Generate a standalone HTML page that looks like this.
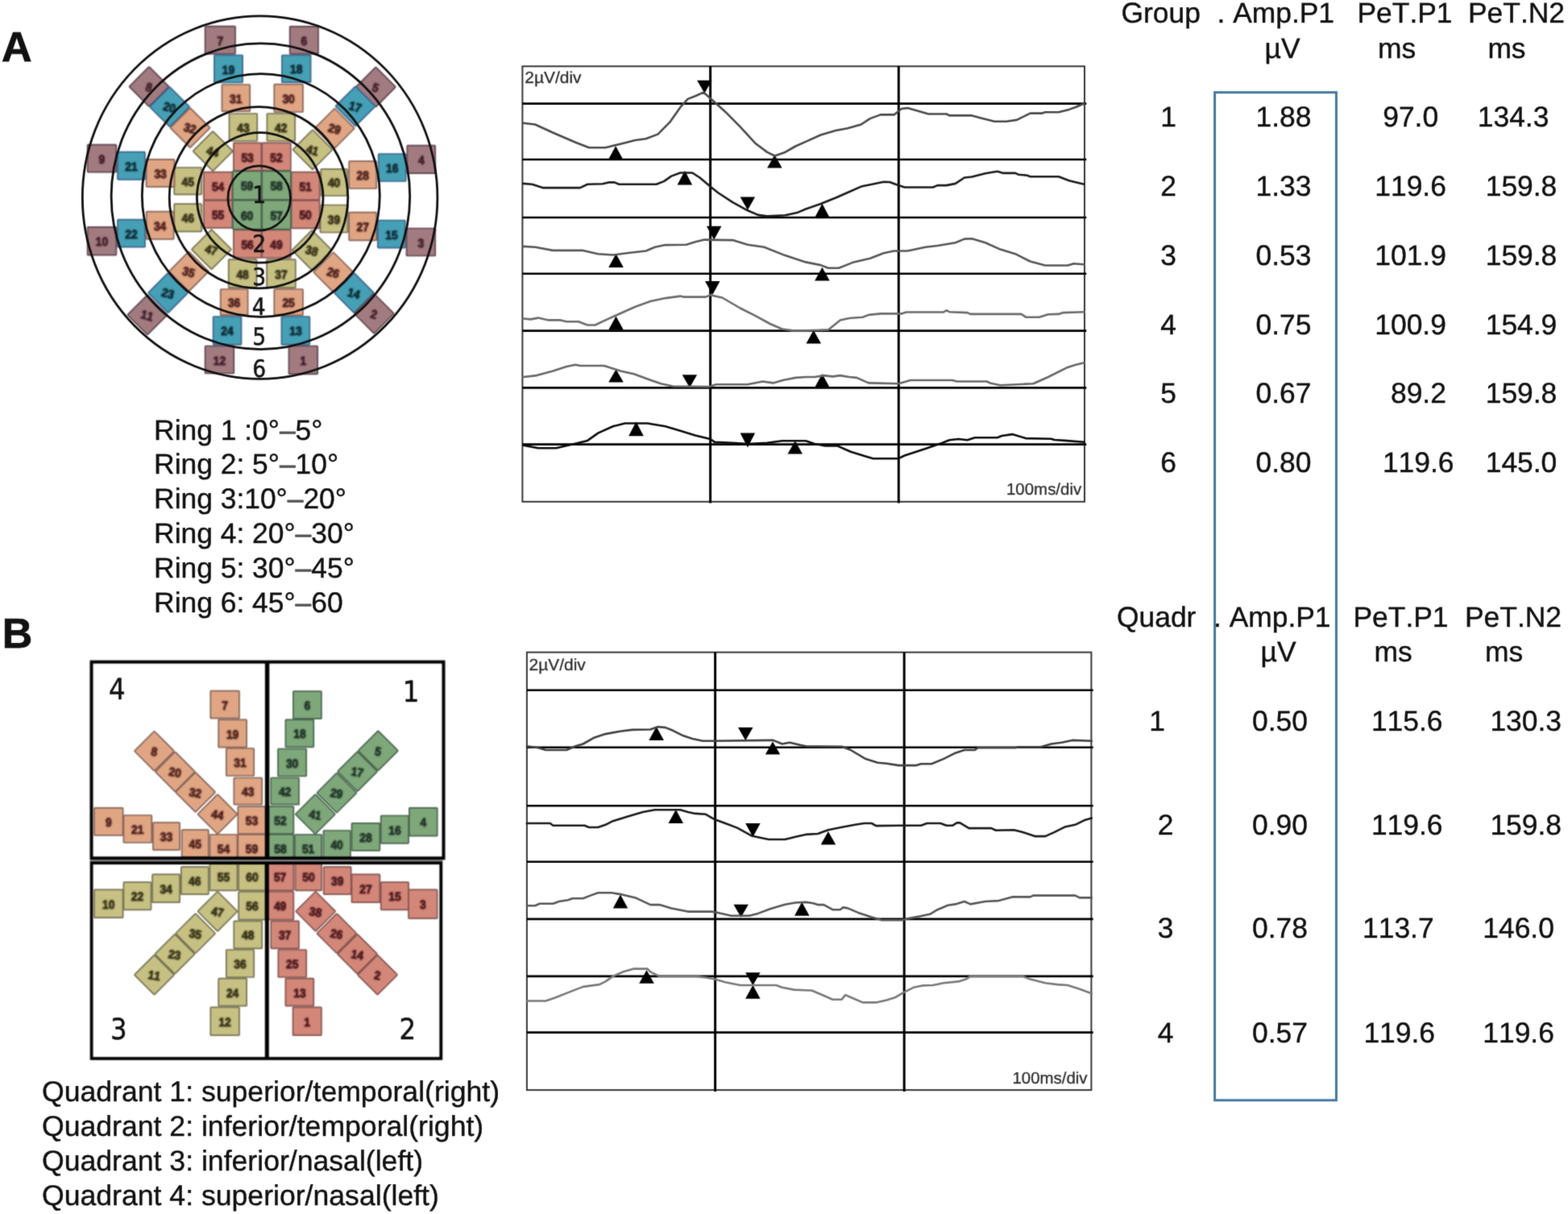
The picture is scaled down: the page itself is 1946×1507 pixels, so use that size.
<!DOCTYPE html>
<html lang="en">
<head>
<meta charset="utf-8">
<title>Multifocal ERG ring and quadrant analysis</title>
<style>
html,body{margin:0;padding:0;background:#fff;}
body{width:1946px;height:1507px;overflow:hidden;font-family:"Liberation Sans", sans-serif;}
svg{display:block;position:absolute;left:0;top:0;}
svg text{font-family:"Liberation Sans", sans-serif;font-kerning:none;font-variant-ligatures:none;text-rendering:geometricPrecision;}
svg text.dj{font-family:"DejaVu Sans", "Liberation Sans", sans-serif;}
svg text.t{stroke:#111;stroke-width:0.4px;}
</style>
</head>
<body>
<svg width="1946" height="1507" viewBox="0 0 1946 1507" role="img" aria-label="Multifocal ERG ring and quadrant analysis figure">
<defs>
<filter id="soft" x="-3%" y="-3%" width="106%" height="106%" color-interpolation-filters="sRGB"><feConvolveMatrix order="3" kernelMatrix="1 2 1 2 4 2 1 2 1" divisor="16" preserveAlpha="false" edgeMode="none"/></filter>
<filter id="softt" x="-3%" y="-3%" width="106%" height="106%" color-interpolation-filters="sRGB"><feConvolveMatrix order="3" kernelMatrix="1 2 1 2 4 2 1 2 1" divisor="16" preserveAlpha="false" edgeMode="none" result="p"/><feConvolveMatrix in="p" order="3" kernelMatrix="1 2 1 2 4 2 1 2 1" divisor="16" preserveAlpha="false" edgeMode="none"/></filter>
<filter id="soft2" x="-3%" y="-3%" width="106%" height="106%" color-interpolation-filters="sRGB"><feConvolveMatrix order="3" kernelMatrix="0 1 0 1 4 1 0 1 0" divisor="8" preserveAlpha="false" edgeMode="none"/></filter>
<filter id="soft4" x="-3%" y="-3%" width="106%" height="106%" color-interpolation-filters="sRGB"><feConvolveMatrix order="3" kernelMatrix="1 2 1 2 4 2 1 2 1" divisor="16" preserveAlpha="false" edgeMode="none"/></filter>
<filter id="soft3" x="-3%" y="-3%" width="106%" height="106%" color-interpolation-filters="sRGB"><feConvolveMatrix order="3" kernelMatrix="0 1 0 1 6 1 0 1 0" divisor="10" preserveAlpha="false" edgeMode="none"/></filter>
</defs>
<rect x="0" y="0" width="1946" height="1507" fill="#ffffff"/>
<g id="panelA-diagram">
<g filter="url(#soft)">
<rect x="-17.5" y="-17.5" width="35.0" height="35.0" rx="1" fill="#a27b81" stroke="#5e444e" stroke-width="1.7" transform="translate(185.0 107.5) rotate(45)"/>
<rect x="-17.5" y="-17.5" width="35.0" height="35.0" rx="1" fill="#45a0b5" stroke="#3a6490" stroke-width="1.7" transform="translate(210.6 132.6) rotate(45)"/>
<rect x="-17.5" y="-17.5" width="35.0" height="35.0" rx="1" fill="#e0a583" stroke="#856458" stroke-width="1.7" transform="translate(236.0 158.6) rotate(45)"/>
<rect x="-17.5" y="-17.5" width="35.0" height="35.0" rx="1" fill="#c6c182" stroke="#747052" stroke-width="1.7" transform="translate(264.2 187.6) rotate(45)"/>
<rect x="-17.5" y="-17.5" width="35.0" height="35.0" rx="1" fill="#a27b81" stroke="#5e444e" stroke-width="1.7" transform="translate(466.4 108.0) rotate(45)"/>
<rect x="-17.5" y="-17.5" width="35.0" height="35.0" rx="1" fill="#45a0b5" stroke="#3a6490" stroke-width="1.7" transform="translate(441.1 131.9) rotate(45)"/>
<rect x="-17.5" y="-17.5" width="35.0" height="35.0" rx="1" fill="#e0a583" stroke="#856458" stroke-width="1.7" transform="translate(415.3 159.3) rotate(45)"/>
<rect x="-17.5" y="-17.5" width="35.0" height="35.0" rx="1" fill="#c6c182" stroke="#747052" stroke-width="1.7" transform="translate(388.0 185.8) rotate(45)"/>
<rect x="-17.5" y="-17.5" width="35.0" height="35.0" rx="1" fill="#c6c182" stroke="#747052" stroke-width="1.7" transform="translate(262.5 309.6) rotate(45)"/>
<rect x="-17.5" y="-17.5" width="35.0" height="35.0" rx="1" fill="#e0a583" stroke="#856458" stroke-width="1.7" transform="translate(234.3 337.0) rotate(45)"/>
<rect x="-17.5" y="-17.5" width="35.0" height="35.0" rx="1" fill="#45a0b5" stroke="#3a6490" stroke-width="1.7" transform="translate(208.6 363.5) rotate(45)"/>
<rect x="-17.5" y="-17.5" width="35.0" height="35.0" rx="1" fill="#a27b81" stroke="#5e444e" stroke-width="1.7" transform="translate(182.9 390.9) rotate(45)"/>
<rect x="-17.5" y="-17.5" width="35.0" height="35.0" rx="1" fill="#c6c182" stroke="#747052" stroke-width="1.7" transform="translate(387.1 310.5) rotate(45)"/>
<rect x="-17.5" y="-17.5" width="35.0" height="35.0" rx="1" fill="#e0a583" stroke="#856458" stroke-width="1.7" transform="translate(413.7 337.8) rotate(45)"/>
<rect x="-17.5" y="-17.5" width="35.0" height="35.0" rx="1" fill="#45a0b5" stroke="#3a6490" stroke-width="1.7" transform="translate(439.4 363.5) rotate(45)"/>
<rect x="-17.5" y="-17.5" width="35.0" height="35.0" rx="1" fill="#a27b81" stroke="#5e444e" stroke-width="1.7" transform="translate(464.3 389.3) rotate(45)"/>
<rect x="254.6" y="32.6" width="37.4" height="34.3" rx="0.8" fill="#a27b81" stroke="#5e444e" stroke-width="1.7"/>
<rect x="265.9" y="68.5" width="35.2" height="34.0" rx="0.8" fill="#45a0b5" stroke="#3a6490" stroke-width="1.7"/>
<rect x="275.4" y="105.0" width="34.8" height="33.2" rx="0.8" fill="#e0a583" stroke="#856458" stroke-width="1.7"/>
<rect x="284.5" y="141.0" width="34.7" height="34.0" rx="0.8" fill="#c6c182" stroke="#747052" stroke-width="1.7"/>
<rect x="289.9" y="177.3" width="34.5" height="34.5" rx="0.8" fill="#d38779" stroke="#835450" stroke-width="1.7"/>
<rect x="359.7" y="32.8" width="35.3" height="34.0" rx="0.8" fill="#a27b81" stroke="#5e444e" stroke-width="1.7"/>
<rect x="349.9" y="68.5" width="35.7" height="33.7" rx="0.8" fill="#45a0b5" stroke="#3a6490" stroke-width="1.7"/>
<rect x="340.3" y="104.6" width="35.7" height="34.4" rx="0.8" fill="#e0a583" stroke="#856458" stroke-width="1.7"/>
<rect x="331.4" y="141.0" width="34.8" height="34.0" rx="0.8" fill="#c6c182" stroke="#747052" stroke-width="1.7"/>
<rect x="325.2" y="177.3" width="35.6" height="34.5" rx="0.8" fill="#d38779" stroke="#835450" stroke-width="1.7"/>
<rect x="252.8" y="213.6" width="35.6" height="34.4" rx="0.8" fill="#d38779" stroke="#835450" stroke-width="1.7"/>
<rect x="216.2" y="208.0" width="34.0" height="33.4" rx="0.8" fill="#c6c182" stroke="#747052" stroke-width="1.7"/>
<rect x="181.6" y="197.9" width="34.9" height="34.0" rx="0.8" fill="#e0a583" stroke="#856458" stroke-width="1.7"/>
<rect x="146.0" y="188.7" width="34.0" height="34.1" rx="0.8" fill="#45a0b5" stroke="#3a6490" stroke-width="1.7"/>
<rect x="108.6" y="179.6" width="35.7" height="34.0" rx="0.8" fill="#a27b81" stroke="#5e444e" stroke-width="1.7"/>
<rect x="252.8" y="248.8" width="35.6" height="34.1" rx="0.8" fill="#d38779" stroke="#835450" stroke-width="1.7"/>
<rect x="216.2" y="253.2" width="34.0" height="34.1" rx="0.8" fill="#c6c182" stroke="#747052" stroke-width="1.7"/>
<rect x="181.6" y="262.7" width="34.1" height="34.1" rx="0.8" fill="#e0a583" stroke="#856458" stroke-width="1.7"/>
<rect x="146.0" y="272.7" width="34.0" height="34.0" rx="0.8" fill="#45a0b5" stroke="#3a6490" stroke-width="1.7"/>
<rect x="108.6" y="281.8" width="35.7" height="34.9" rx="0.8" fill="#a27b81" stroke="#5e444e" stroke-width="1.7"/>
<rect x="361.6" y="213.6" width="35.1" height="34.4" rx="0.8" fill="#d38779" stroke="#835450" stroke-width="1.7"/>
<rect x="398.3" y="209.8" width="32.7" height="33.2" rx="0.8" fill="#c6c182" stroke="#747052" stroke-width="1.7"/>
<rect x="433.2" y="200.2" width="34.0" height="33.8" rx="0.8" fill="#e0a583" stroke="#856458" stroke-width="1.7"/>
<rect x="469.7" y="191.0" width="34.0" height="34.0" rx="0.8" fill="#45a0b5" stroke="#3a6490" stroke-width="1.7"/>
<rect x="505.3" y="180.6" width="34.9" height="34.6" rx="0.8" fill="#a27b81" stroke="#5e444e" stroke-width="1.7"/>
<rect x="361.6" y="248.8" width="35.1" height="34.5" rx="0.8" fill="#d38779" stroke="#835450" stroke-width="1.7"/>
<rect x="397.5" y="254.5" width="34.0" height="34.0" rx="0.8" fill="#c6c182" stroke="#747052" stroke-width="1.7"/>
<rect x="433.2" y="263.6" width="34.0" height="34.8" rx="0.8" fill="#e0a583" stroke="#856458" stroke-width="1.7"/>
<rect x="468.8" y="273.5" width="34.1" height="34.1" rx="0.8" fill="#45a0b5" stroke="#3a6490" stroke-width="1.7"/>
<rect x="504.5" y="283.5" width="35.7" height="34.0" rx="0.8" fill="#a27b81" stroke="#5e444e" stroke-width="1.7"/>
<rect x="289.9" y="285.4" width="34.5" height="34.6" rx="0.8" fill="#d38779" stroke="#835450" stroke-width="1.7"/>
<rect x="283.7" y="322.2" width="34.8" height="35.0" rx="0.8" fill="#c6c182" stroke="#747052" stroke-width="1.7"/>
<rect x="273.7" y="359.0" width="33.9" height="32.2" rx="0.8" fill="#e0a583" stroke="#856458" stroke-width="1.7"/>
<rect x="264.6" y="393.0" width="34.9" height="34.8" rx="0.8" fill="#45a0b5" stroke="#3a6490" stroke-width="1.7"/>
<rect x="254.6" y="429.5" width="35.7" height="34.0" rx="0.8" fill="#a27b81" stroke="#5e444e" stroke-width="1.7"/>
<rect x="325.2" y="285.4" width="35.6" height="34.6" rx="0.8" fill="#d38779" stroke="#835450" stroke-width="1.7"/>
<rect x="331.1" y="322.2" width="35.7" height="35.0" rx="0.8" fill="#c6c182" stroke="#747052" stroke-width="1.7"/>
<rect x="340.3" y="359.0" width="35.7" height="32.4" rx="0.8" fill="#e0a583" stroke="#856458" stroke-width="1.7"/>
<rect x="349.4" y="393.0" width="34.9" height="34.8" rx="0.8" fill="#45a0b5" stroke="#3a6490" stroke-width="1.7"/>
<rect x="358.5" y="429.5" width="35.7" height="34.8" rx="0.8" fill="#a27b81" stroke="#5e444e" stroke-width="1.7"/>
<rect x="288.8" y="212.4" width="35.6" height="35.4" rx="0.8" fill="#7ea77a" stroke="#48644e" stroke-width="1.7"/>
<rect x="325.2" y="212.4" width="35.8" height="35.4" rx="0.8" fill="#7ea77a" stroke="#48644e" stroke-width="1.7"/>
<rect x="288.8" y="248.6" width="35.6" height="36.0" rx="0.8" fill="#7ea77a" stroke="#48644e" stroke-width="1.7"/>
<rect x="325.2" y="248.6" width="35.8" height="36.0" rx="0.8" fill="#7ea77a" stroke="#48644e" stroke-width="1.7"/>
</g>
<g filter="url(#softt)">
<text x="0" y="6.0" font-size="15" fill="#3e1c26" stroke="#3e1c26" stroke-width="0.9" text-anchor="middle" font-weight="bold" transform="translate(185.0 107.5) rotate(16) scale(0.92 1)">8</text>
<text x="0" y="6.0" font-size="15" fill="#0c2832" stroke="#0c2832" stroke-width="0.9" text-anchor="middle" font-weight="bold" transform="translate(210.6 132.6) rotate(16) scale(0.92 1)">20</text>
<text x="0" y="6.0" font-size="15" fill="#481c1a" stroke="#481c1a" stroke-width="0.9" text-anchor="middle" font-weight="bold" transform="translate(236.0 158.6) rotate(16) scale(0.92 1)">32</text>
<text x="0" y="6.0" font-size="15" fill="#322c14" stroke="#322c14" stroke-width="0.9" text-anchor="middle" font-weight="bold" transform="translate(264.2 187.6) rotate(16) scale(0.92 1)">44</text>
<text x="0" y="6.0" font-size="15" fill="#3e1c26" stroke="#3e1c26" stroke-width="0.9" text-anchor="middle" font-weight="bold" transform="translate(466.4 108.0) rotate(16) scale(0.92 1)">5</text>
<text x="0" y="6.0" font-size="15" fill="#0c2832" stroke="#0c2832" stroke-width="0.9" text-anchor="middle" font-weight="bold" transform="translate(441.1 131.9) rotate(16) scale(0.92 1)">17</text>
<text x="0" y="6.0" font-size="15" fill="#481c1a" stroke="#481c1a" stroke-width="0.9" text-anchor="middle" font-weight="bold" transform="translate(415.3 159.3) rotate(16) scale(0.92 1)">29</text>
<text x="0" y="6.0" font-size="15" fill="#322c14" stroke="#322c14" stroke-width="0.9" text-anchor="middle" font-weight="bold" transform="translate(388.0 185.8) rotate(16) scale(0.92 1)">41</text>
<text x="0" y="6.0" font-size="15" fill="#322c14" stroke="#322c14" stroke-width="0.9" text-anchor="middle" font-weight="bold" transform="translate(262.5 309.6) rotate(16) scale(0.92 1)">47</text>
<text x="0" y="6.0" font-size="15" fill="#481c1a" stroke="#481c1a" stroke-width="0.9" text-anchor="middle" font-weight="bold" transform="translate(234.3 337.0) rotate(16) scale(0.92 1)">35</text>
<text x="0" y="6.0" font-size="15" fill="#0c2832" stroke="#0c2832" stroke-width="0.9" text-anchor="middle" font-weight="bold" transform="translate(208.6 363.5) rotate(16) scale(0.92 1)">23</text>
<text x="0" y="6.0" font-size="15" fill="#3e1c26" stroke="#3e1c26" stroke-width="0.9" text-anchor="middle" font-weight="bold" transform="translate(182.9 390.9) rotate(16) scale(0.92 1)">11</text>
<text x="0" y="6.0" font-size="15" fill="#322c14" stroke="#322c14" stroke-width="0.9" text-anchor="middle" font-weight="bold" transform="translate(387.1 310.5) rotate(16) scale(0.92 1)">38</text>
<text x="0" y="6.0" font-size="15" fill="#481c1a" stroke="#481c1a" stroke-width="0.9" text-anchor="middle" font-weight="bold" transform="translate(413.7 337.8) rotate(16) scale(0.92 1)">26</text>
<text x="0" y="6.0" font-size="15" fill="#0c2832" stroke="#0c2832" stroke-width="0.9" text-anchor="middle" font-weight="bold" transform="translate(439.4 363.5) rotate(16) scale(0.92 1)">14</text>
<text x="0" y="6.0" font-size="15" fill="#3e1c26" stroke="#3e1c26" stroke-width="0.9" text-anchor="middle" font-weight="bold" transform="translate(464.3 389.3) rotate(16) scale(0.92 1)">2</text>
<text x="0" y="6.0" font-size="15" fill="#3e1c26" stroke="#3e1c26" stroke-width="0.9" text-anchor="middle" font-weight="bold" transform="translate(273.3 49.8) scale(0.92 1)">7</text>
<text x="0" y="6.0" font-size="15" fill="#0c2832" stroke="#0c2832" stroke-width="0.9" text-anchor="middle" font-weight="bold" transform="translate(283.5 85.5) scale(0.92 1)">19</text>
<text x="0" y="6.0" font-size="15" fill="#481c1a" stroke="#481c1a" stroke-width="0.9" text-anchor="middle" font-weight="bold" transform="translate(292.8 121.6) scale(0.92 1)">31</text>
<text x="0" y="6.0" font-size="15" fill="#322c14" stroke="#322c14" stroke-width="0.9" text-anchor="middle" font-weight="bold" transform="translate(301.9 158.0) scale(0.92 1)">43</text>
<text x="0" y="6.0" font-size="15" fill="#46141a" stroke="#46141a" stroke-width="0.9" text-anchor="middle" font-weight="bold" transform="translate(307.1 194.6) scale(0.92 1)">53</text>
<text x="0" y="6.0" font-size="15" fill="#3e1c26" stroke="#3e1c26" stroke-width="0.9" text-anchor="middle" font-weight="bold" transform="translate(377.4 49.8) scale(0.92 1)">6</text>
<text x="0" y="6.0" font-size="15" fill="#0c2832" stroke="#0c2832" stroke-width="0.9" text-anchor="middle" font-weight="bold" transform="translate(367.8 85.3) scale(0.92 1)">18</text>
<text x="0" y="6.0" font-size="15" fill="#481c1a" stroke="#481c1a" stroke-width="0.9" text-anchor="middle" font-weight="bold" transform="translate(358.1 121.8) scale(0.92 1)">30</text>
<text x="0" y="6.0" font-size="15" fill="#322c14" stroke="#322c14" stroke-width="0.9" text-anchor="middle" font-weight="bold" transform="translate(348.8 158.0) scale(0.92 1)">42</text>
<text x="0" y="6.0" font-size="15" fill="#46141a" stroke="#46141a" stroke-width="0.9" text-anchor="middle" font-weight="bold" transform="translate(343.0 194.6) scale(0.92 1)">52</text>
<text x="0" y="6.0" font-size="15" fill="#46141a" stroke="#46141a" stroke-width="0.9" text-anchor="middle" font-weight="bold" transform="translate(270.6 230.8) scale(0.92 1)">54</text>
<text x="0" y="6.0" font-size="15" fill="#322c14" stroke="#322c14" stroke-width="0.9" text-anchor="middle" font-weight="bold" transform="translate(233.2 224.7) scale(0.92 1)">45</text>
<text x="0" y="6.0" font-size="15" fill="#481c1a" stroke="#481c1a" stroke-width="0.9" text-anchor="middle" font-weight="bold" transform="translate(199.1 214.9) scale(0.92 1)">33</text>
<text x="0" y="6.0" font-size="15" fill="#0c2832" stroke="#0c2832" stroke-width="0.9" text-anchor="middle" font-weight="bold" transform="translate(163.0 205.8) scale(0.92 1)">21</text>
<text x="0" y="6.0" font-size="15" fill="#3e1c26" stroke="#3e1c26" stroke-width="0.9" text-anchor="middle" font-weight="bold" transform="translate(126.4 196.6) scale(0.92 1)">9</text>
<text x="0" y="6.0" font-size="15" fill="#46141a" stroke="#46141a" stroke-width="0.9" text-anchor="middle" font-weight="bold" transform="translate(270.6 265.9) scale(0.92 1)">55</text>
<text x="0" y="6.0" font-size="15" fill="#322c14" stroke="#322c14" stroke-width="0.9" text-anchor="middle" font-weight="bold" transform="translate(233.2 270.2) scale(0.92 1)">46</text>
<text x="0" y="6.0" font-size="15" fill="#481c1a" stroke="#481c1a" stroke-width="0.9" text-anchor="middle" font-weight="bold" transform="translate(198.6 279.8) scale(0.92 1)">34</text>
<text x="0" y="6.0" font-size="15" fill="#0c2832" stroke="#0c2832" stroke-width="0.9" text-anchor="middle" font-weight="bold" transform="translate(163.0 289.7) scale(0.92 1)">22</text>
<text x="0" y="6.0" font-size="15" fill="#3e1c26" stroke="#3e1c26" stroke-width="0.9" text-anchor="middle" font-weight="bold" transform="translate(126.4 299.2) scale(0.92 1)">10</text>
<text x="0" y="6.0" font-size="15" fill="#46141a" stroke="#46141a" stroke-width="0.9" text-anchor="middle" font-weight="bold" transform="translate(379.1 230.8) scale(0.92 1)">51</text>
<text x="0" y="6.0" font-size="15" fill="#322c14" stroke="#322c14" stroke-width="0.9" text-anchor="middle" font-weight="bold" transform="translate(414.6 226.4) scale(0.92 1)">40</text>
<text x="0" y="6.0" font-size="15" fill="#481c1a" stroke="#481c1a" stroke-width="0.9" text-anchor="middle" font-weight="bold" transform="translate(450.2 217.1) scale(0.92 1)">28</text>
<text x="0" y="6.0" font-size="15" fill="#0c2832" stroke="#0c2832" stroke-width="0.9" text-anchor="middle" font-weight="bold" transform="translate(486.7 208.0) scale(0.92 1)">16</text>
<text x="0" y="6.0" font-size="15" fill="#3e1c26" stroke="#3e1c26" stroke-width="0.9" text-anchor="middle" font-weight="bold" transform="translate(522.8 197.9) scale(0.92 1)">4</text>
<text x="0" y="6.0" font-size="15" fill="#46141a" stroke="#46141a" stroke-width="0.9" text-anchor="middle" font-weight="bold" transform="translate(379.1 266.1) scale(0.92 1)">50</text>
<text x="0" y="6.0" font-size="15" fill="#322c14" stroke="#322c14" stroke-width="0.9" text-anchor="middle" font-weight="bold" transform="translate(414.5 271.5) scale(0.92 1)">39</text>
<text x="0" y="6.0" font-size="15" fill="#481c1a" stroke="#481c1a" stroke-width="0.9" text-anchor="middle" font-weight="bold" transform="translate(450.2 281.0) scale(0.92 1)">27</text>
<text x="0" y="6.0" font-size="15" fill="#0c2832" stroke="#0c2832" stroke-width="0.9" text-anchor="middle" font-weight="bold" transform="translate(485.9 290.6) scale(0.92 1)">15</text>
<text x="0" y="6.0" font-size="15" fill="#3e1c26" stroke="#3e1c26" stroke-width="0.9" text-anchor="middle" font-weight="bold" transform="translate(522.4 300.5) scale(0.92 1)">3</text>
<text x="0" y="6.0" font-size="15" fill="#46141a" stroke="#46141a" stroke-width="0.9" text-anchor="middle" font-weight="bold" transform="translate(307.1 302.7) scale(0.92 1)">56</text>
<text x="0" y="6.0" font-size="15" fill="#322c14" stroke="#322c14" stroke-width="0.9" text-anchor="middle" font-weight="bold" transform="translate(301.1 339.7) scale(0.92 1)">48</text>
<text x="0" y="6.0" font-size="15" fill="#481c1a" stroke="#481c1a" stroke-width="0.9" text-anchor="middle" font-weight="bold" transform="translate(290.6 375.1) scale(0.92 1)">36</text>
<text x="0" y="6.0" font-size="15" fill="#0c2832" stroke="#0c2832" stroke-width="0.9" text-anchor="middle" font-weight="bold" transform="translate(282.0 410.4) scale(0.92 1)">24</text>
<text x="0" y="6.0" font-size="15" fill="#3e1c26" stroke="#3e1c26" stroke-width="0.9" text-anchor="middle" font-weight="bold" transform="translate(272.4 446.5) scale(0.92 1)">12</text>
<text x="0" y="6.0" font-size="15" fill="#46141a" stroke="#46141a" stroke-width="0.9" text-anchor="middle" font-weight="bold" transform="translate(343.0 302.7) scale(0.92 1)">49</text>
<text x="0" y="6.0" font-size="15" fill="#322c14" stroke="#322c14" stroke-width="0.9" text-anchor="middle" font-weight="bold" transform="translate(348.9 339.7) scale(0.92 1)">37</text>
<text x="0" y="6.0" font-size="15" fill="#481c1a" stroke="#481c1a" stroke-width="0.9" text-anchor="middle" font-weight="bold" transform="translate(358.1 375.2) scale(0.92 1)">25</text>
<text x="0" y="6.0" font-size="15" fill="#0c2832" stroke="#0c2832" stroke-width="0.9" text-anchor="middle" font-weight="bold" transform="translate(366.9 410.4) scale(0.92 1)">13</text>
<text x="0" y="6.0" font-size="15" fill="#3e1c26" stroke="#3e1c26" stroke-width="0.9" text-anchor="middle" font-weight="bold" transform="translate(376.4 446.9) scale(0.92 1)">1</text>
<text x="0" y="6.0" font-size="15" fill="#1c2e24" stroke="#1c2e24" stroke-width="0.9" text-anchor="middle" font-weight="bold" transform="translate(306.6 230.1) scale(0.92 1)">59</text>
<text x="0" y="6.0" font-size="15" fill="#1c2e24" stroke="#1c2e24" stroke-width="0.9" text-anchor="middle" font-weight="bold" transform="translate(343.1 230.1) scale(0.92 1)">58</text>
<text x="0" y="6.0" font-size="15" fill="#1c2e24" stroke="#1c2e24" stroke-width="0.9" text-anchor="middle" font-weight="bold" transform="translate(306.6 266.6) scale(0.92 1)">60</text>
<text x="0" y="6.0" font-size="15" fill="#1c2e24" stroke="#1c2e24" stroke-width="0.9" text-anchor="middle" font-weight="bold" transform="translate(343.1 266.6) scale(0.92 1)">57</text>
</g>
<g fill="none" stroke="#111" stroke-width="2.8" filter="url(#soft2)">
<ellipse cx="322.6" cy="245.1" rx="220.3" ry="225.2"/>
<ellipse cx="323.4" cy="243.7" rx="185.3" ry="189.9"/>
<ellipse cx="323.8" cy="242.5" rx="147.5" ry="150.9"/>
<ellipse cx="321.0" cy="245.3" rx="110.8" ry="112.6"/>
<ellipse cx="322.7" cy="245.4" rx="78.3" ry="80.8"/>
<ellipse cx="321.7" cy="246.0" rx="38.8" ry="40.1"/>
</g>
<g font-size="29.5" fill="#111" text-anchor="middle" filter="url(#soft2)">
<text class="dj" stroke="#111" stroke-width="0.5" transform="translate(321.8 251.7) scale(0.9 1)">1</text>
<text class="dj" stroke="#111" stroke-width="0.5" transform="translate(321.7 313.0) scale(0.9 1)">2</text>
<text class="dj" stroke="#111" stroke-width="0.5" transform="translate(321.7 353.6) scale(0.9 1)">3</text>
<text class="dj" stroke="#111" stroke-width="0.5" transform="translate(321.2 390.6) scale(0.9 1)">4</text>
<text class="dj" stroke="#111" stroke-width="0.5" transform="translate(321.8 427.7) scale(0.9 1)">5</text>
<text class="dj" stroke="#111" stroke-width="0.5" transform="translate(321.7 468.4) scale(0.9 1)">6</text>
</g>
</g>
<g id="panelB-diagram">
<g filter="url(#soft)">
<rect x="-17.5" y="-17.5" width="35.0" height="35.0" rx="1" fill="#e0a583" stroke="#856458" stroke-width="1.7" transform="translate(191.5 932.3) rotate(45)"/>
<rect x="-17.5" y="-17.5" width="35.0" height="35.0" rx="1" fill="#e0a583" stroke="#856458" stroke-width="1.7" transform="translate(217.4 958.0) rotate(45)"/>
<rect x="-17.5" y="-17.5" width="35.0" height="35.0" rx="1" fill="#e0a583" stroke="#856458" stroke-width="1.7" transform="translate(242.6 983.4) rotate(45)"/>
<rect x="-17.5" y="-17.5" width="35.0" height="35.0" rx="1" fill="#e0a583" stroke="#856458" stroke-width="1.7" transform="translate(270.0 1010.7) rotate(45)"/>
<rect x="-17.5" y="-17.5" width="35.0" height="35.0" rx="1" fill="#7ea77a" stroke="#48644e" stroke-width="1.7" transform="translate(469.3 931.9) rotate(45)"/>
<rect x="-17.5" y="-17.5" width="35.0" height="35.0" rx="1" fill="#7ea77a" stroke="#48644e" stroke-width="1.7" transform="translate(443.6 957.6) rotate(45)"/>
<rect x="-17.5" y="-17.5" width="35.0" height="35.0" rx="1" fill="#7ea77a" stroke="#48644e" stroke-width="1.7" transform="translate(417.9 984.2) rotate(45)"/>
<rect x="-17.5" y="-17.5" width="35.0" height="35.0" rx="1" fill="#7ea77a" stroke="#48644e" stroke-width="1.7" transform="translate(391.3 1010.7) rotate(45)"/>
<rect x="-17.5" y="-17.5" width="35.0" height="35.0" rx="1" fill="#c6c182" stroke="#747052" stroke-width="1.7" transform="translate(270.0 1131.3) rotate(45)"/>
<rect x="-17.5" y="-17.5" width="35.0" height="35.0" rx="1" fill="#c6c182" stroke="#747052" stroke-width="1.7" transform="translate(242.6 1158.7) rotate(45)"/>
<rect x="-17.5" y="-17.5" width="35.0" height="35.0" rx="1" fill="#c6c182" stroke="#747052" stroke-width="1.7" transform="translate(216.9 1184.4) rotate(45)"/>
<rect x="-17.5" y="-17.5" width="35.0" height="35.0" rx="1" fill="#c6c182" stroke="#747052" stroke-width="1.7" transform="translate(191.5 1210.1) rotate(45)"/>
<rect x="-17.5" y="-17.5" width="35.0" height="35.0" rx="1" fill="#d38779" stroke="#835450" stroke-width="1.7" transform="translate(391.7 1131.3) rotate(45)"/>
<rect x="-17.5" y="-17.5" width="35.0" height="35.0" rx="1" fill="#d38779" stroke="#835450" stroke-width="1.7" transform="translate(417.9 1158.7) rotate(45)"/>
<rect x="-17.5" y="-17.5" width="35.0" height="35.0" rx="1" fill="#d38779" stroke="#835450" stroke-width="1.7" transform="translate(443.6 1184.4) rotate(45)"/>
<rect x="-17.5" y="-17.5" width="35.0" height="35.0" rx="1" fill="#d38779" stroke="#835450" stroke-width="1.7" transform="translate(468.5 1210.1) rotate(45)"/>
<rect x="261.3" y="857.7" width="35.7" height="34.0" rx="0.8" fill="#e0a583" stroke="#856458" stroke-width="1.7"/>
<rect x="271.2" y="893.3" width="34.9" height="34.4" rx="0.8" fill="#e0a583" stroke="#856458" stroke-width="1.7"/>
<rect x="280.8" y="929.0" width="34.4" height="34.0" rx="0.8" fill="#e0a583" stroke="#856458" stroke-width="1.7"/>
<rect x="290.3" y="965.5" width="34.9" height="33.2" rx="0.8" fill="#e0a583" stroke="#856458" stroke-width="1.7"/>
<rect x="295.3" y="1001.2" width="34.3" height="34.0" rx="0.8" fill="#e0a583" stroke="#856458" stroke-width="1.7"/>
<rect x="295.3" y="1036.0" width="34.3" height="34.0" rx="0.8" fill="#e0a583" stroke="#856458" stroke-width="1.7"/>
<rect x="260.4" y="1036.0" width="34.1" height="34.0" rx="0.8" fill="#e0a583" stroke="#856458" stroke-width="1.7"/>
<rect x="225.6" y="1030.2" width="33.2" height="34.0" rx="0.8" fill="#e0a583" stroke="#856458" stroke-width="1.7"/>
<rect x="189.9" y="1021.1" width="33.2" height="34.0" rx="0.8" fill="#e0a583" stroke="#856458" stroke-width="1.7"/>
<rect x="153.4" y="1012.0" width="34.9" height="34.0" rx="0.8" fill="#e0a583" stroke="#856458" stroke-width="1.7"/>
<rect x="116.9" y="1002.8" width="35.7" height="34.1" rx="0.8" fill="#e0a583" stroke="#856458" stroke-width="1.7"/>
<rect x="363.9" y="858.2" width="35.0" height="34.0" rx="0.8" fill="#7ea77a" stroke="#48644e" stroke-width="1.7"/>
<rect x="354.4" y="893.3" width="34.9" height="34.1" rx="0.8" fill="#7ea77a" stroke="#48644e" stroke-width="1.7"/>
<rect x="345.0" y="929.5" width="35.2" height="34.0" rx="0.8" fill="#7ea77a" stroke="#48644e" stroke-width="1.7"/>
<rect x="336.2" y="965.5" width="34.8" height="33.2" rx="0.8" fill="#7ea77a" stroke="#48644e" stroke-width="1.7"/>
<rect x="331.4" y="1001.2" width="33.0" height="34.0" rx="0.8" fill="#7ea77a" stroke="#48644e" stroke-width="1.7"/>
<rect x="331.4" y="1036.0" width="33.0" height="34.0" rx="0.8" fill="#7ea77a" stroke="#48644e" stroke-width="1.7"/>
<rect x="366.0" y="1036.0" width="33.2" height="34.0" rx="0.8" fill="#7ea77a" stroke="#48644e" stroke-width="1.7"/>
<rect x="401.4" y="1031.0" width="33.5" height="34.0" rx="0.8" fill="#7ea77a" stroke="#48644e" stroke-width="1.7"/>
<rect x="436.5" y="1021.9" width="34.9" height="34.0" rx="0.8" fill="#7ea77a" stroke="#48644e" stroke-width="1.7"/>
<rect x="472.7" y="1012.5" width="34.4" height="34.3" rx="0.8" fill="#7ea77a" stroke="#48644e" stroke-width="1.7"/>
<rect x="507.9" y="1002.8" width="34.8" height="34.9" rx="0.8" fill="#7ea77a" stroke="#48644e" stroke-width="1.7"/>
<rect x="260.4" y="1071.4" width="34.1" height="34.0" rx="0.8" fill="#c6c182" stroke="#747052" stroke-width="1.7"/>
<rect x="296.1" y="1071.4" width="33.5" height="34.0" rx="0.8" fill="#c6c182" stroke="#747052" stroke-width="1.7"/>
<rect x="224.8" y="1076.2" width="34.0" height="34.0" rx="0.8" fill="#c6c182" stroke="#747052" stroke-width="1.7"/>
<rect x="189.1" y="1085.3" width="34.0" height="34.9" rx="0.8" fill="#c6c182" stroke="#747052" stroke-width="1.7"/>
<rect x="153.4" y="1095.2" width="34.1" height="34.1" rx="0.8" fill="#c6c182" stroke="#747052" stroke-width="1.7"/>
<rect x="116.9" y="1104.4" width="35.7" height="34.8" rx="0.8" fill="#c6c182" stroke="#747052" stroke-width="1.7"/>
<rect x="296.1" y="1107.0" width="33.5" height="34.7" rx="0.8" fill="#c6c182" stroke="#747052" stroke-width="1.7"/>
<rect x="290.3" y="1143.3" width="34.9" height="34.1" rx="0.8" fill="#c6c182" stroke="#747052" stroke-width="1.7"/>
<rect x="280.8" y="1179.0" width="34.4" height="34.0" rx="0.8" fill="#c6c182" stroke="#747052" stroke-width="1.7"/>
<rect x="271.2" y="1214.7" width="34.9" height="34.0" rx="0.8" fill="#c6c182" stroke="#747052" stroke-width="1.7"/>
<rect x="261.3" y="1250.3" width="35.7" height="34.9" rx="0.8" fill="#c6c182" stroke="#747052" stroke-width="1.7"/>
<rect x="330.9" y="1071.4" width="33.5" height="34.0" rx="0.8" fill="#d38779" stroke="#835450" stroke-width="1.7"/>
<rect x="366.5" y="1071.4" width="32.7" height="34.0" rx="0.8" fill="#d38779" stroke="#835450" stroke-width="1.7"/>
<rect x="401.7" y="1076.2" width="34.0" height="34.0" rx="0.8" fill="#d38779" stroke="#835450" stroke-width="1.7"/>
<rect x="436.5" y="1085.3" width="34.9" height="34.9" rx="0.8" fill="#d38779" stroke="#835450" stroke-width="1.7"/>
<rect x="472.7" y="1095.2" width="34.4" height="34.1" rx="0.8" fill="#d38779" stroke="#835450" stroke-width="1.7"/>
<rect x="507.0" y="1104.4" width="35.7" height="35.7" rx="0.8" fill="#d38779" stroke="#835450" stroke-width="1.7"/>
<rect x="330.9" y="1107.0" width="33.5" height="34.7" rx="0.8" fill="#d38779" stroke="#835450" stroke-width="1.7"/>
<rect x="336.2" y="1143.3" width="34.8" height="34.1" rx="0.8" fill="#d38779" stroke="#835450" stroke-width="1.7"/>
<rect x="345.3" y="1179.0" width="34.9" height="34.0" rx="0.8" fill="#d38779" stroke="#835450" stroke-width="1.7"/>
<rect x="354.4" y="1214.7" width="34.9" height="34.0" rx="0.8" fill="#d38779" stroke="#835450" stroke-width="1.7"/>
<rect x="363.5" y="1250.3" width="35.4" height="34.9" rx="0.8" fill="#d38779" stroke="#835450" stroke-width="1.7"/>
</g>
<g filter="url(#softt)">
<text x="0" y="6.0" font-size="15" fill="#481c1a" stroke="#481c1a" stroke-width="0.9" text-anchor="middle" font-weight="bold" transform="translate(191.5 932.3) rotate(10) scale(0.92 1)">8</text>
<text x="0" y="6.0" font-size="15" fill="#481c1a" stroke="#481c1a" stroke-width="0.9" text-anchor="middle" font-weight="bold" transform="translate(217.4 958.0) rotate(10) scale(0.92 1)">20</text>
<text x="0" y="6.0" font-size="15" fill="#481c1a" stroke="#481c1a" stroke-width="0.9" text-anchor="middle" font-weight="bold" transform="translate(242.6 983.4) rotate(10) scale(0.92 1)">32</text>
<text x="0" y="6.0" font-size="15" fill="#481c1a" stroke="#481c1a" stroke-width="0.9" text-anchor="middle" font-weight="bold" transform="translate(270.0 1010.7) rotate(10) scale(0.92 1)">44</text>
<text x="0" y="6.0" font-size="15" fill="#1c2e24" stroke="#1c2e24" stroke-width="0.9" text-anchor="middle" font-weight="bold" transform="translate(469.3 931.9) rotate(10) scale(0.92 1)">5</text>
<text x="0" y="6.0" font-size="15" fill="#1c2e24" stroke="#1c2e24" stroke-width="0.9" text-anchor="middle" font-weight="bold" transform="translate(443.6 957.6) rotate(10) scale(0.92 1)">17</text>
<text x="0" y="6.0" font-size="15" fill="#1c2e24" stroke="#1c2e24" stroke-width="0.9" text-anchor="middle" font-weight="bold" transform="translate(417.9 984.2) rotate(10) scale(0.92 1)">29</text>
<text x="0" y="6.0" font-size="15" fill="#1c2e24" stroke="#1c2e24" stroke-width="0.9" text-anchor="middle" font-weight="bold" transform="translate(391.3 1010.7) rotate(10) scale(0.92 1)">41</text>
<text x="0" y="6.0" font-size="15" fill="#322c14" stroke="#322c14" stroke-width="0.9" text-anchor="middle" font-weight="bold" transform="translate(270.0 1131.3) rotate(10) scale(0.92 1)">47</text>
<text x="0" y="6.0" font-size="15" fill="#322c14" stroke="#322c14" stroke-width="0.9" text-anchor="middle" font-weight="bold" transform="translate(242.6 1158.7) rotate(10) scale(0.92 1)">35</text>
<text x="0" y="6.0" font-size="15" fill="#322c14" stroke="#322c14" stroke-width="0.9" text-anchor="middle" font-weight="bold" transform="translate(216.9 1184.4) rotate(10) scale(0.92 1)">23</text>
<text x="0" y="6.0" font-size="15" fill="#322c14" stroke="#322c14" stroke-width="0.9" text-anchor="middle" font-weight="bold" transform="translate(191.5 1210.1) rotate(10) scale(0.92 1)">11</text>
<text x="0" y="6.0" font-size="15" fill="#46141a" stroke="#46141a" stroke-width="0.9" text-anchor="middle" font-weight="bold" transform="translate(391.7 1131.3) rotate(10) scale(0.92 1)">38</text>
<text x="0" y="6.0" font-size="15" fill="#46141a" stroke="#46141a" stroke-width="0.9" text-anchor="middle" font-weight="bold" transform="translate(417.9 1158.7) rotate(10) scale(0.92 1)">26</text>
<text x="0" y="6.0" font-size="15" fill="#46141a" stroke="#46141a" stroke-width="0.9" text-anchor="middle" font-weight="bold" transform="translate(443.6 1184.4) rotate(10) scale(0.92 1)">14</text>
<text x="0" y="6.0" font-size="15" fill="#46141a" stroke="#46141a" stroke-width="0.9" text-anchor="middle" font-weight="bold" transform="translate(468.5 1210.1) rotate(10) scale(0.92 1)">2</text>
<text x="0" y="6.0" font-size="15" fill="#481c1a" stroke="#481c1a" stroke-width="0.9" text-anchor="middle" font-weight="bold" transform="translate(279.1 874.7) scale(0.92 1)">7</text>
<text x="0" y="6.0" font-size="15" fill="#481c1a" stroke="#481c1a" stroke-width="0.9" text-anchor="middle" font-weight="bold" transform="translate(288.6 910.5) scale(0.92 1)">19</text>
<text x="0" y="6.0" font-size="15" fill="#481c1a" stroke="#481c1a" stroke-width="0.9" text-anchor="middle" font-weight="bold" transform="translate(298.0 946.0) scale(0.92 1)">31</text>
<text x="0" y="6.0" font-size="15" fill="#481c1a" stroke="#481c1a" stroke-width="0.9" text-anchor="middle" font-weight="bold" transform="translate(307.8 982.1) scale(0.92 1)">43</text>
<text x="0" y="6.0" font-size="15" fill="#481c1a" stroke="#481c1a" stroke-width="0.9" text-anchor="middle" font-weight="bold" transform="translate(312.4 1018.2) scale(0.92 1)">53</text>
<text x="0" y="6.0" font-size="15" fill="#481c1a" stroke="#481c1a" stroke-width="0.9" text-anchor="middle" font-weight="bold" transform="translate(312.4 1053.0) scale(0.92 1)">59</text>
<text x="0" y="6.0" font-size="15" fill="#481c1a" stroke="#481c1a" stroke-width="0.9" text-anchor="middle" font-weight="bold" transform="translate(277.4 1053.0) scale(0.92 1)">54</text>
<text x="0" y="6.0" font-size="15" fill="#481c1a" stroke="#481c1a" stroke-width="0.9" text-anchor="middle" font-weight="bold" transform="translate(242.2 1047.2) scale(0.92 1)">45</text>
<text x="0" y="6.0" font-size="15" fill="#481c1a" stroke="#481c1a" stroke-width="0.9" text-anchor="middle" font-weight="bold" transform="translate(206.5 1038.1) scale(0.92 1)">33</text>
<text x="0" y="6.0" font-size="15" fill="#481c1a" stroke="#481c1a" stroke-width="0.9" text-anchor="middle" font-weight="bold" transform="translate(170.8 1029.0) scale(0.92 1)">21</text>
<text x="0" y="6.0" font-size="15" fill="#481c1a" stroke="#481c1a" stroke-width="0.9" text-anchor="middle" font-weight="bold" transform="translate(134.8 1019.8) scale(0.92 1)">9</text>
<text x="0" y="6.0" font-size="15" fill="#1c2e24" stroke="#1c2e24" stroke-width="0.9" text-anchor="middle" font-weight="bold" transform="translate(381.4 875.2) scale(0.92 1)">6</text>
<text x="0" y="6.0" font-size="15" fill="#1c2e24" stroke="#1c2e24" stroke-width="0.9" text-anchor="middle" font-weight="bold" transform="translate(371.9 910.3) scale(0.92 1)">18</text>
<text x="0" y="6.0" font-size="15" fill="#1c2e24" stroke="#1c2e24" stroke-width="0.9" text-anchor="middle" font-weight="bold" transform="translate(362.6 946.5) scale(0.92 1)">30</text>
<text x="0" y="6.0" font-size="15" fill="#1c2e24" stroke="#1c2e24" stroke-width="0.9" text-anchor="middle" font-weight="bold" transform="translate(353.6 982.1) scale(0.92 1)">42</text>
<text x="0" y="6.0" font-size="15" fill="#1c2e24" stroke="#1c2e24" stroke-width="0.9" text-anchor="middle" font-weight="bold" transform="translate(347.9 1018.2) scale(0.92 1)">52</text>
<text x="0" y="6.0" font-size="15" fill="#1c2e24" stroke="#1c2e24" stroke-width="0.9" text-anchor="middle" font-weight="bold" transform="translate(347.9 1053.0) scale(0.92 1)">58</text>
<text x="0" y="6.0" font-size="15" fill="#1c2e24" stroke="#1c2e24" stroke-width="0.9" text-anchor="middle" font-weight="bold" transform="translate(382.6 1053.0) scale(0.92 1)">51</text>
<text x="0" y="6.0" font-size="15" fill="#1c2e24" stroke="#1c2e24" stroke-width="0.9" text-anchor="middle" font-weight="bold" transform="translate(418.1 1048.0) scale(0.92 1)">40</text>
<text x="0" y="6.0" font-size="15" fill="#1c2e24" stroke="#1c2e24" stroke-width="0.9" text-anchor="middle" font-weight="bold" transform="translate(454.0 1038.9) scale(0.92 1)">28</text>
<text x="0" y="6.0" font-size="15" fill="#1c2e24" stroke="#1c2e24" stroke-width="0.9" text-anchor="middle" font-weight="bold" transform="translate(489.9 1029.7) scale(0.92 1)">16</text>
<text x="0" y="6.0" font-size="15" fill="#1c2e24" stroke="#1c2e24" stroke-width="0.9" text-anchor="middle" font-weight="bold" transform="translate(525.3 1020.2) scale(0.92 1)">4</text>
<text x="0" y="6.0" font-size="15" fill="#322c14" stroke="#322c14" stroke-width="0.9" text-anchor="middle" font-weight="bold" transform="translate(277.4 1088.4) scale(0.92 1)">55</text>
<text x="0" y="6.0" font-size="15" fill="#322c14" stroke="#322c14" stroke-width="0.9" text-anchor="middle" font-weight="bold" transform="translate(312.9 1088.4) scale(0.92 1)">60</text>
<text x="0" y="6.0" font-size="15" fill="#322c14" stroke="#322c14" stroke-width="0.9" text-anchor="middle" font-weight="bold" transform="translate(241.8 1093.2) scale(0.92 1)">46</text>
<text x="0" y="6.0" font-size="15" fill="#322c14" stroke="#322c14" stroke-width="0.9" text-anchor="middle" font-weight="bold" transform="translate(206.1 1102.8) scale(0.92 1)">34</text>
<text x="0" y="6.0" font-size="15" fill="#322c14" stroke="#322c14" stroke-width="0.9" text-anchor="middle" font-weight="bold" transform="translate(170.4 1112.2) scale(0.92 1)">22</text>
<text x="0" y="6.0" font-size="15" fill="#322c14" stroke="#322c14" stroke-width="0.9" text-anchor="middle" font-weight="bold" transform="translate(134.8 1121.8) scale(0.92 1)">10</text>
<text x="0" y="6.0" font-size="15" fill="#322c14" stroke="#322c14" stroke-width="0.9" text-anchor="middle" font-weight="bold" transform="translate(312.9 1124.3) scale(0.92 1)">56</text>
<text x="0" y="6.0" font-size="15" fill="#322c14" stroke="#322c14" stroke-width="0.9" text-anchor="middle" font-weight="bold" transform="translate(307.8 1160.3) scale(0.92 1)">48</text>
<text x="0" y="6.0" font-size="15" fill="#322c14" stroke="#322c14" stroke-width="0.9" text-anchor="middle" font-weight="bold" transform="translate(298.0 1196.0) scale(0.92 1)">36</text>
<text x="0" y="6.0" font-size="15" fill="#322c14" stroke="#322c14" stroke-width="0.9" text-anchor="middle" font-weight="bold" transform="translate(288.6 1231.7) scale(0.92 1)">24</text>
<text x="0" y="6.0" font-size="15" fill="#322c14" stroke="#322c14" stroke-width="0.9" text-anchor="middle" font-weight="bold" transform="translate(279.1 1267.8) scale(0.92 1)">12</text>
<text x="0" y="6.0" font-size="15" fill="#46141a" stroke="#46141a" stroke-width="0.9" text-anchor="middle" font-weight="bold" transform="translate(347.6 1088.4) scale(0.92 1)">57</text>
<text x="0" y="6.0" font-size="15" fill="#46141a" stroke="#46141a" stroke-width="0.9" text-anchor="middle" font-weight="bold" transform="translate(382.9 1088.4) scale(0.92 1)">50</text>
<text x="0" y="6.0" font-size="15" fill="#46141a" stroke="#46141a" stroke-width="0.9" text-anchor="middle" font-weight="bold" transform="translate(418.7 1093.2) scale(0.92 1)">39</text>
<text x="0" y="6.0" font-size="15" fill="#46141a" stroke="#46141a" stroke-width="0.9" text-anchor="middle" font-weight="bold" transform="translate(454.0 1102.8) scale(0.92 1)">27</text>
<text x="0" y="6.0" font-size="15" fill="#46141a" stroke="#46141a" stroke-width="0.9" text-anchor="middle" font-weight="bold" transform="translate(489.9 1112.2) scale(0.92 1)">15</text>
<text x="0" y="6.0" font-size="15" fill="#46141a" stroke="#46141a" stroke-width="0.9" text-anchor="middle" font-weight="bold" transform="translate(524.9 1122.2) scale(0.92 1)">3</text>
<text x="0" y="6.0" font-size="15" fill="#46141a" stroke="#46141a" stroke-width="0.9" text-anchor="middle" font-weight="bold" transform="translate(347.6 1124.3) scale(0.92 1)">49</text>
<text x="0" y="6.0" font-size="15" fill="#46141a" stroke="#46141a" stroke-width="0.9" text-anchor="middle" font-weight="bold" transform="translate(353.6 1160.3) scale(0.92 1)">37</text>
<text x="0" y="6.0" font-size="15" fill="#46141a" stroke="#46141a" stroke-width="0.9" text-anchor="middle" font-weight="bold" transform="translate(362.8 1196.0) scale(0.92 1)">25</text>
<text x="0" y="6.0" font-size="15" fill="#46141a" stroke="#46141a" stroke-width="0.9" text-anchor="middle" font-weight="bold" transform="translate(371.9 1231.7) scale(0.92 1)">13</text>
<text x="0" y="6.0" font-size="15" fill="#46141a" stroke="#46141a" stroke-width="0.9" text-anchor="middle" font-weight="bold" transform="translate(381.2 1267.8) scale(0.92 1)">1</text>
</g>
<g fill="none" stroke="#000" filter="url(#soft4)">
<line x1="111.6" y1="1068.4" x2="549.4" y2="1068.4" stroke="#9a9a9a" stroke-width="3"/>
<rect x="113.5" y="821.7" width="437.0" height="243.6" stroke-width="4"/>
<rect x="113.6" y="1071.2" width="433.7" height="242.8" stroke-width="3.8"/>
<line x1="331.6" y1="821.7" x2="331.6" y2="1065.3" stroke-width="5.4"/>
<line x1="331.3" y1="1071.2" x2="331.3" y2="1314" stroke-width="5.0"/>
</g>
<g font-size="36" fill="#111" text-anchor="middle" filter="url(#soft2)">
<text class="dj" stroke="#111" stroke-width="0.5" transform="translate(145.4 868.1) scale(0.9 1)">4</text>
<text class="dj" stroke="#111" stroke-width="0.5" transform="translate(510.0 871.0) scale(0.9 1)">1</text>
<text class="dj" stroke="#111" stroke-width="0.5" transform="translate(147.2 1289.8) scale(0.9 1)">3</text>
<text class="dj" stroke="#111" stroke-width="0.5" transform="translate(505.8 1289.8) scale(0.9 1)">2</text>
</g>
</g>
<g id="chartA">
<g filter="url(#soft2)">
<rect x="648.4" y="82.3" width="697.6" height="540.5" fill="#fff" stroke="#383838" stroke-width="2"/>
<polygon points="764.1,181.2 773.4,198.2 754.9,198.2" fill="#000"/>
<polygon points="961.4,192.3 970.6,208.4 952.1,208.4" fill="#000"/>
<polygon points="849.9,211.8 859.1,229.4 840.6,229.4" fill="#000"/>
<polygon points="764.5,314.9 773.8,331.9 755.2,331.9" fill="#000"/>
<polygon points="1020.4,252.7 1029.7,270.3 1011.1,270.3" fill="#000"/>
<polygon points="1020.4,331.7 1029.7,348.6 1011.1,348.6" fill="#000"/>
<polygon points="764.5,392.5 773.8,409.4 755.2,409.4" fill="#000"/>
<polygon points="764.5,458.4 773.8,474.5 755.2,474.5" fill="#000"/>
<polygon points="789.5,523.4 798.8,541.3 780.2,541.3" fill="#000"/>
<polygon points="986.8,547.3 996.0,563.6 977.5,563.6" fill="#000"/>
<polygon points="1009.7,409.8 1019.0,426.5 1000.5,426.5" fill="#000"/>
<polygon points="1020.4,464.0 1029.7,481.0 1011.1,481.0" fill="#000"/>
<polygon points="865.1,99.7 883.6,99.7 874.4,115.8" fill="#000"/>
<polygon points="918.6,244.6 937.1,244.6 927.9,260.7" fill="#000"/>
<polygon points="876.9,280.8 895.4,280.8 886.1,297.8" fill="#000"/>
<polygon points="875.0,349.0 893.5,349.0 884.3,366.1" fill="#000"/>
<polygon points="846.6,465.2 865.1,465.2 855.9,481.2" fill="#000"/>
<polygon points="918.6,537.6 937.1,537.6 927.9,555.5" fill="#000"/>
<g stroke="#000" stroke-width="2.6">
<line x1="648.4" y1="128.6" x2="1348.3" y2="128.6"/>
<line x1="648.4" y1="198.0" x2="1348.3" y2="198.0"/>
<line x1="648.4" y1="270.0" x2="1348.3" y2="270.0"/>
<line x1="648.4" y1="339.8" x2="1348.3" y2="339.8"/>
<line x1="648.4" y1="410.6" x2="1348.3" y2="410.6"/>
<line x1="648.4" y1="481.4" x2="1348.3" y2="481.4"/>
<line x1="648.4" y1="551.6" x2="1348.3" y2="551.6"/>
</g><g stroke="#000" stroke-width="3">
<line x1="881.6" y1="82.3" x2="881.6" y2="624.6"/>
<line x1="1115.3" y1="82.3" x2="1115.3" y2="624.6"/>
</g>
<polyline points="649.3,152.7 664.1,154.5 686.4,164.7 714.3,176.8 731.0,183.3 751.5,183.3 770.0,178.7 788.6,174.0 801.6,172.2 816.5,166.6 831.3,151.7 844.3,133.2 853.6,122.9 862.9,119.2 873.1,114.6 881.5,122.0 900.1,138.7 918.6,157.3 937.2,177.7 952.1,188.9 961.4,193.5 974.4,188.9 987.4,181.5 1000.0,175.9 1018.6,167.5 1037.2,162.0 1052.0,159.2 1068.7,154.5 1079.9,147.1 1092.9,142.4 1109.6,142.4 1118.9,135.0 1126.3,134.1 1139.3,137.8 1152.3,141.5 1174.6,141.5 1178.3,143.4 1206.2,143.4 1219.2,147.1 1234.1,150.8 1248.9,150.8 1261.9,148.9 1278.6,140.6 1293.5,140.6 1297.2,139.3 1313.9,139.3 1326.9,135.9 1334.4,133.2 1345.5,128.5" fill="none" stroke="#4a4a4a" stroke-width="2.6" stroke-linejoin="round" stroke-linecap="round"/>
<polyline points="649.3,227.9 660.4,228.8 673.4,233.1 719.9,233.1 729.2,228.8 747.7,228.3 755.2,226.4 762.6,226.4 768.2,228.8 814.6,228.8 823.9,225.1 833.2,218.6 844.3,214.5 859.2,214.5 868.5,220.5 881.5,231.6 890.8,239.0 909.3,251.1 927.9,261.3 940.9,266.9 952.1,268.4 974.4,267.3 989.2,264.1 1000.0,259.5 1018.6,253.0 1037.2,245.5 1052.0,239.0 1068.7,231.6 1079.9,229.2 1096.6,225.7 1104.0,226.0 1111.5,228.8 1122.6,232.5 1157.9,232.5 1163.5,230.1 1174.6,230.1 1185.8,227.9 1196.9,220.5 1206.2,219.5 1222.9,215.3 1237.8,212.7 1245.2,214.9 1260.1,214.9 1263.8,216.7 1274.9,217.7 1278.6,219.2 1313.9,219.2 1326.9,224.2 1345.5,228.8" fill="none" stroke="#1c1c1c" stroke-width="2.6" stroke-linejoin="round" stroke-linecap="round"/>
<polyline points="649.3,305.9 664.1,306.8 686.4,310.9 723.6,310.9 742.2,315.2 760.7,316.5 777.5,314.3 801.6,311.5 812.8,306.8 825.8,304.1 851.8,303.7 862.9,300.3 874.1,297.6 909.3,298.1 927.9,303.7 948.4,306.8 974.4,317.1 1000.0,325.4 1018.6,329.1 1027.9,332.8 1040.9,332.8 1050.2,329.1 1059.4,325.4 1079.9,320.8 1096.6,314.3 1109.6,311.5 1126.3,311.5 1148.6,306.8 1163.5,305.0 1185.8,301.3 1196.9,296.6 1206.2,296.3 1222.9,301.3 1241.5,309.6 1260.1,315.2 1278.6,324.5 1297.2,329.5 1325.1,329.5 1332.5,327.3 1345.5,328.2" fill="none" stroke="#585858" stroke-width="2.6" stroke-linejoin="round" stroke-linecap="round"/>
<polyline points="649.3,395.5 658.6,396.4 667.9,394.6 680.9,397.4 695.7,397.4 703.2,399.2 718.0,399.2 729.2,403.5 738.5,403.5 751.5,397.4 770.0,389.0 788.6,380.7 807.2,374.1 825.8,370.1 844.3,367.6 848.0,368.6 875.9,368.6 881.5,366.3 896.3,369.5 918.6,382.5 937.2,391.8 955.8,402.0 970.7,408.5 983.7,410.4 1000.0,410.4 1027.9,409.4 1042.7,397.4 1053.9,395.0 1070.6,393.7 1078.0,390.9 1092.9,389.4 1118.9,389.4 1124.5,387.5 1170.9,387.5 1174.6,385.3 1178.3,387.2 1200.6,388.1 1204.3,389.9 1267.5,389.9 1273.1,393.7 1289.8,393.7 1300.9,390.3 1313.9,389.9 1319.5,388.1 1345.5,387.2" fill="none" stroke="#6c6c6c" stroke-width="2.6" stroke-linejoin="round" stroke-linecap="round"/>
<polyline points="649.3,468.0 666.0,466.1 686.4,460.5 703.2,455.0 714.3,452.7 719.9,454.0 749.6,454.0 760.7,457.4 770.0,460.5 786.7,464.2 807.2,471.7 820.2,476.3 835.0,479.5 879.6,480.0 888.9,477.2 927.9,477.2 946.5,473.5 959.5,475.4 972.5,471.7 987.4,468.9 1000.0,468.0 1011.1,468.0 1022.3,466.1 1033.4,467.4 1042.7,466.1 1053.9,468.0 1063.2,468.9 1078.0,475.4 1115.2,476.3 1130.0,472.0 1182.0,472.0 1187.6,473.5 1224.8,473.5 1228.5,475.4 1241.5,478.2 1282.4,476.3 1300.9,468.0 1325.1,455.9 1334.4,453.1 1345.5,450.3" fill="none" stroke="#686868" stroke-width="2.6" stroke-linejoin="round" stroke-linecap="round"/>
<polyline points="649.3,552.8 667.9,556.2 690.2,556.2 710.6,551.5 729.2,546.9 742.2,537.6 760.7,529.3 775.6,525.5 803.5,525.5 825.8,529.3 844.3,534.8 862.9,540.4 881.5,545.0 887.1,548.8 909.3,549.7 927.9,551.0 952.1,549.7 970.7,547.3 1000.0,547.3 1011.1,551.0 1024.1,553.4 1039.0,553.4 1055.7,560.8 1074.3,566.4 1083.6,569.2 1115.2,569.2 1122.6,565.5 1148.6,557.1 1167.2,550.6 1178.3,546.3 1189.5,545.0 1200.6,546.3 1209.9,543.2 1237.8,543.2 1243.3,541.0 1256.3,539.1 1273.1,544.1 1304.6,544.7 1308.4,546.0 1321.4,546.9 1345.5,548.8" fill="none" stroke="#0c0c0c" stroke-width="2.6" stroke-linejoin="round" stroke-linecap="round"/>
</g>
<text x="651.3" y="103.0" font-size="20.2" fill="#2e2e2e" stroke="#2e2e2e" stroke-width="0.3" textLength="70.2" lengthAdjust="spacingAndGlyphs" filter="url(#soft2)">2µV/div</text>
<text x="1249.0" y="613.6" font-size="20.2" fill="#2e2e2e" stroke="#2e2e2e" stroke-width="0.3" textLength="93.2" lengthAdjust="spacingAndGlyphs" filter="url(#soft2)">100ms/div</text>
</g>
<g id="chartB">
<g filter="url(#soft2)">
<rect x="653.9" y="809.7" width="700.5" height="543.4" fill="#fff" stroke="#383838" stroke-width="2"/>
<polygon points="814.6,901.9 823.9,918.9 805.4,918.9" fill="#000"/>
<polygon points="959.0,920.5 968.2,936.5 949.8,936.5" fill="#000"/>
<polygon points="838.8,1005.0 848.0,1022.0 829.5,1022.0" fill="#000"/>
<polygon points="1027.9,1031.9 1037.2,1048.6 1018.7,1048.6" fill="#000"/>
<polygon points="770.0,1110.4 779.2,1127.4 760.8,1127.4" fill="#000"/>
<polygon points="995.2,1119.8 1004.5,1136.7 986.0,1136.7" fill="#000"/>
<polygon points="802.5,1204.2 811.8,1220.8 793.2,1220.8" fill="#000"/>
<polygon points="934.4,1222.8 943.6,1239.8 925.1,1239.8" fill="#000"/>
<polygon points="916.0,903.1 934.5,903.1 925.2,919.2" fill="#000"/>
<polygon points="925.1,1022.0 943.6,1022.0 934.4,1039.0" fill="#000"/>
<polygon points="910.4,1122.7 928.9,1122.7 919.6,1138.8" fill="#000"/>
<polygon points="925.1,1207.3 943.6,1207.3 934.4,1223.3" fill="#000"/>
<g stroke="#000" stroke-width="2.6">
<line x1="653.9" y1="856.7" x2="1356.7" y2="856.7"/>
<line x1="653.9" y1="927.8" x2="1356.7" y2="927.8"/>
<line x1="653.9" y1="1000.3" x2="1356.7" y2="1000.3"/>
<line x1="653.9" y1="1069.7" x2="1356.7" y2="1069.7"/>
<line x1="653.9" y1="1140.9" x2="1356.7" y2="1140.9"/>
<line x1="653.9" y1="1211.9" x2="1356.7" y2="1211.9"/>
<line x1="653.9" y1="1281.6" x2="1356.7" y2="1281.6"/>
</g><g stroke="#000" stroke-width="3">
<line x1="887.6" y1="809.7" x2="887.6" y2="1354.9"/>
<line x1="1122.2" y1="809.7" x2="1122.2" y2="1354.9"/>
</g>
<polyline points="653.9,926.3 667.9,928.2 677.2,931.0 703.2,931.0 714.3,926.3 723.6,923.5 736.6,916.1 751.5,911.1 770.0,907.7 784.9,905.9 807.2,905.5 816.5,902.2 825.8,903.1 835.0,906.8 848.0,913.3 859.2,917.0 872.2,919.8 887.1,919.8 959.5,918.9 970.7,923.5 979.9,921.7 992.9,924.8 1000.0,926.3 1044.6,926.7 1055.7,931.0 1074.3,942.1 1089.2,946.7 1100.3,947.7 1115.2,950.1 1137.5,950.1 1143.0,948.2 1156.0,948.2 1170.9,942.1 1185.8,934.7 1196.9,931.0 1209.9,931.0 1213.6,928.2 1260.1,928.2 1263.8,927.2 1291.6,927.2 1304.6,923.5 1317.6,921.7 1330.7,918.9 1354.8,919.8" fill="none" stroke="#424242" stroke-width="2.6" stroke-linejoin="round" stroke-linecap="round"/>
<polyline points="653.9,1022.0 682.7,1022.0 686.4,1024.8 725.4,1024.8 731.0,1027.0 742.2,1027.0 751.5,1023.8 760.7,1019.2 779.3,1013.6 797.9,1008.0 812.8,1005.3 844.3,1005.3 853.6,1008.0 862.9,1009.9 875.9,1010.8 887.1,1017.3 900.1,1022.0 914.9,1027.6 933.5,1037.8 953.9,1042.0 974.4,1042.0 987.4,1038.7 1000.0,1035.9 1014.9,1035.0 1027.9,1030.3 1046.4,1026.6 1061.3,1023.8 1072.4,1022.0 1081.7,1022.0 1087.3,1025.1 1118.9,1024.8 1143.0,1024.8 1150.5,1022.0 1167.2,1022.0 1174.6,1024.8 1182.0,1024.8 1187.6,1021.4 1191.3,1021.4 1202.5,1028.1 1230.3,1028.1 1235.9,1030.7 1258.2,1030.3 1269.3,1033.1 1284.2,1038.1 1297.2,1038.1 1308.4,1033.1 1321.4,1026.6 1334.4,1023.8 1345.5,1018.3 1354.8,1015.5" fill="none" stroke="#1c1c1c" stroke-width="2.6" stroke-linejoin="round" stroke-linecap="round"/>
<polyline points="653.9,1124.2 664.1,1124.2 669.7,1121.8 686.4,1121.8 693.9,1119.0 705.0,1117.2 710.6,1115.3 723.6,1115.3 732.9,1111.6 742.2,1108.2 758.9,1108.2 770.0,1110.1 788.6,1114.4 807.2,1123.1 818.3,1123.1 833.2,1127.4 853.6,1131.6 883.3,1131.6 890.8,1132.9 907.5,1136.7 929.8,1136.7 940.9,1133.9 955.8,1128.3 974.4,1122.7 987.4,1120.5 1000.0,1119.9 1009.3,1121.2 1014.9,1123.1 1022.3,1123.1 1033.4,1129.2 1042.7,1129.2 1046.4,1126.4 1052.0,1127.4 1065.0,1132.9 1081.7,1138.5 1094.7,1142.2 1118.9,1142.2 1126.3,1140.4 1141.2,1137.6 1154.2,1134.8 1163.5,1129.2 1176.5,1123.7 1185.8,1122.4 1196.9,1119.0 1204.3,1122.4 1222.9,1119.0 1239.6,1118.1 1256.3,1113.4 1278.6,1113.4 1282.4,1111.6 1334.4,1111.6 1339.9,1114.4 1354.8,1114.4" fill="none" stroke="#585858" stroke-width="2.6" stroke-linejoin="round" stroke-linecap="round"/>
<polyline points="653.9,1242.5 677.2,1242.5 688.3,1238.8 706.9,1231.4 723.6,1224.9 744.0,1222.1 751.5,1218.4 760.7,1211.9 773.7,1206.3 786.7,1202.6 803.5,1202.6 807.2,1206.3 818.3,1211.9 862.9,1211.9 877.8,1213.7 887.1,1215.6 900.1,1219.3 918.6,1223.0 963.2,1223.0 970.7,1225.8 985.5,1228.6 1000.0,1229.2 1007.4,1229.5 1018.6,1234.2 1033.4,1240.7 1044.6,1240.7 1049.2,1235.1 1057.6,1238.8 1070.6,1244.4 1087.3,1244.4 1100.3,1241.6 1111.5,1237.9 1120.7,1232.3 1133.7,1225.8 1144.9,1223.4 1157.9,1223.0 1170.9,1220.2 1189.5,1218.4 1198.8,1215.6 1204.3,1211.9 1269.3,1211.9 1278.6,1215.6 1297.2,1220.2 1312.1,1222.1 1325.1,1223.0 1339.9,1227.7 1354.8,1233.3" fill="none" stroke="#7a7a7a" stroke-width="2.6" stroke-linejoin="round" stroke-linecap="round"/>
</g>
<text x="656.6" y="832.1" font-size="20.2" fill="#2e2e2e" stroke="#2e2e2e" stroke-width="0.3" textLength="70.2" lengthAdjust="spacingAndGlyphs" filter="url(#soft2)">2µV/div</text>
<text x="1256.4" y="1344.5" font-size="20.2" fill="#2e2e2e" stroke="#2e2e2e" stroke-width="0.3" textLength="93.2" lengthAdjust="spacingAndGlyphs" filter="url(#soft2)">100ms/div</text>
</g>
<g id="labels" filter="url(#soft3)">
<text class="t" x="2.0" y="76.4" font-size="52" fill="#111" font-weight="bold" style="stroke-width:0.8px">A</text>
<text class="t" x="2.8" y="804.4" font-size="52" fill="#111" font-weight="bold" style="stroke-width:0.8px">B</text>
<text class="t" x="191.1" y="545.5" font-size="35.4" fill="#111">Ring 1 :0°<tspan fill="#555">–</tspan>5°</text>
<text class="t" x="191.1" y="588.4" font-size="35.4" fill="#111">Ring 2: 5°<tspan fill="#555">–</tspan>10°</text>
<text class="t" x="191.1" y="631.3" font-size="35.4" fill="#111">Ring 3:10°<tspan fill="#555">–</tspan>20°</text>
<text class="t" x="191.1" y="674.2" font-size="35.4" fill="#111">Ring 4: 20°<tspan fill="#555">–</tspan>30°</text>
<text class="t" x="191.1" y="717.1" font-size="35.4" fill="#111">Ring 5: 30°<tspan fill="#555">–</tspan>45°</text>
<text class="t" x="191.1" y="760.0" font-size="35.4" fill="#111">Ring 6: 45°<tspan fill="#555">–</tspan>60</text>
<text class="t" x="52.0" y="1367.2" font-size="35.62" fill="#111">Quadrant 1: superior/temporal(right)</text>
<text class="t" x="52.0" y="1409.7" font-size="35.62" fill="#111">Quadrant 2: inferior/temporal(right)</text>
<text class="t" x="52.0" y="1452.8" font-size="35.62" fill="#111">Quadrant 3: inferior/nasal(left)</text>
<text class="t" x="52.0" y="1495.6" font-size="35.62" fill="#111">Quadrant 4: superior/nasal(left)</text>
</g>
<g id="table" filter="url(#soft3)">
<rect x="1507.6" y="114.7" width="150.8" height="1251.1" fill="none" stroke="#4379a2" stroke-width="3"/>
<text class="t" x="1391.5" y="28.4" font-size="35.4" fill="#111">Group</text>
<text class="t" x="1510.5" y="28.4" font-size="35.4" fill="#111">. Amp.P1</text>
<text class="t" x="1684.5" y="28.4" font-size="35.4" fill="#111">PeT.P1</text>
<text class="t" x="1822.0" y="28.4" font-size="35.4" fill="#111">PeT.N2</text>
<text class="t" x="1569.5" y="71.7" font-size="35.4" fill="#111">µV</text>
<text class="t" x="1710.0" y="71.7" font-size="35.4" fill="#111">ms</text>
<text class="t" x="1846.4" y="71.7" font-size="35.4" fill="#111">ms</text>
<text class="t" x="1450.0" y="156.8" font-size="35.4" fill="#111" text-anchor="middle">1</text>
<text class="t" x="1627.5" y="156.8" font-size="35.4" fill="#111" text-anchor="end">1.88</text>
<text class="t" x="1785.1" y="156.8" font-size="35.4" fill="#111" text-anchor="end">97.0</text>
<text class="t" x="1922.4" y="156.8" font-size="35.4" fill="#111" text-anchor="end">134.3</text>
<text class="t" x="1450.0" y="243.4" font-size="35.4" fill="#111" text-anchor="middle">2</text>
<text class="t" x="1627.5" y="243.4" font-size="35.4" fill="#111" text-anchor="end">1.33</text>
<text class="t" x="1794.9" y="243.4" font-size="35.4" fill="#111" text-anchor="end">119.6</text>
<text class="t" x="1932.3" y="243.4" font-size="35.4" fill="#111" text-anchor="end">159.8</text>
<text class="t" x="1450.0" y="328.5" font-size="35.4" fill="#111" text-anchor="middle">3</text>
<text class="t" x="1627.5" y="328.5" font-size="35.4" fill="#111" text-anchor="end">0.53</text>
<text class="t" x="1794.9" y="328.5" font-size="35.4" fill="#111" text-anchor="end">101.9</text>
<text class="t" x="1932.3" y="328.5" font-size="35.4" fill="#111" text-anchor="end">159.8</text>
<text class="t" x="1450.0" y="415.0" font-size="35.4" fill="#111" text-anchor="middle">4</text>
<text class="t" x="1627.5" y="415.0" font-size="35.4" fill="#111" text-anchor="end">0.75</text>
<text class="t" x="1794.9" y="415.0" font-size="35.4" fill="#111" text-anchor="end">100.9</text>
<text class="t" x="1932.3" y="415.0" font-size="35.4" fill="#111" text-anchor="end">154.9</text>
<text class="t" x="1450.0" y="499.7" font-size="35.4" fill="#111" text-anchor="middle">5</text>
<text class="t" x="1627.5" y="499.7" font-size="35.4" fill="#111" text-anchor="end">0.67</text>
<text class="t" x="1794.9" y="499.7" font-size="35.4" fill="#111" text-anchor="end">89.2</text>
<text class="t" x="1932.3" y="499.7" font-size="35.4" fill="#111" text-anchor="end">159.8</text>
<text class="t" x="1450.0" y="586.3" font-size="35.4" fill="#111" text-anchor="middle">6</text>
<text class="t" x="1627.5" y="586.3" font-size="35.4" fill="#111" text-anchor="end">0.80</text>
<text class="t" x="1804.5" y="586.3" font-size="35.4" fill="#111" text-anchor="end">119.6</text>
<text class="t" x="1932.3" y="586.3" font-size="35.4" fill="#111" text-anchor="end">145.0</text>
<text class="t" x="1386.0" y="778.0" font-size="35.4" fill="#111">Quadr</text>
<text class="t" x="1506.0" y="778.0" font-size="35.4" fill="#111">. Amp.P1</text>
<text class="t" x="1679.5" y="778.0" font-size="35.4" fill="#111">PeT.P1</text>
<text class="t" x="1818.0" y="778.0" font-size="35.4" fill="#111">PeT.N2</text>
<text class="t" x="1564.5" y="820.7" font-size="35.4" fill="#111">µV</text>
<text class="t" x="1705.5" y="820.7" font-size="35.4" fill="#111">ms</text>
<text class="t" x="1843.0" y="820.7" font-size="35.4" fill="#111">ms</text>
<text class="t" x="1436.0" y="906.6" font-size="35.4" fill="#111" text-anchor="middle">1</text>
<text class="t" x="1623.0" y="906.6" font-size="35.4" fill="#111" text-anchor="end">0.50</text>
<text class="t" x="1790.5" y="906.6" font-size="35.4" fill="#111" text-anchor="end">115.6</text>
<text class="t" x="1938.0" y="906.6" font-size="35.4" fill="#111" text-anchor="end">130.3</text>
<text class="t" x="1446.5" y="1036.2" font-size="35.4" fill="#111" text-anchor="middle">2</text>
<text class="t" x="1623.0" y="1036.2" font-size="35.4" fill="#111" text-anchor="end">0.90</text>
<text class="t" x="1790.5" y="1036.2" font-size="35.4" fill="#111" text-anchor="end">119.6</text>
<text class="t" x="1938.0" y="1036.2" font-size="35.4" fill="#111" text-anchor="end">159.8</text>
<text class="t" x="1446.5" y="1163.9" font-size="35.4" fill="#111" text-anchor="middle">3</text>
<text class="t" x="1623.0" y="1163.9" font-size="35.4" fill="#111" text-anchor="end">0.78</text>
<text class="t" x="1779.6" y="1163.9" font-size="35.4" fill="#111" text-anchor="end">113.7</text>
<text class="t" x="1928.9" y="1163.9" font-size="35.4" fill="#111" text-anchor="end">146.0</text>
<text class="t" x="1446.5" y="1293.5" font-size="35.4" fill="#111" text-anchor="middle">4</text>
<text class="t" x="1623.0" y="1293.5" font-size="35.4" fill="#111" text-anchor="end">0.57</text>
<text class="t" x="1781.0" y="1293.5" font-size="35.4" fill="#111" text-anchor="end">119.6</text>
<text class="t" x="1928.9" y="1293.5" font-size="35.4" fill="#111" text-anchor="end">119.6</text>
</g>
</svg>
</body>
</html>
